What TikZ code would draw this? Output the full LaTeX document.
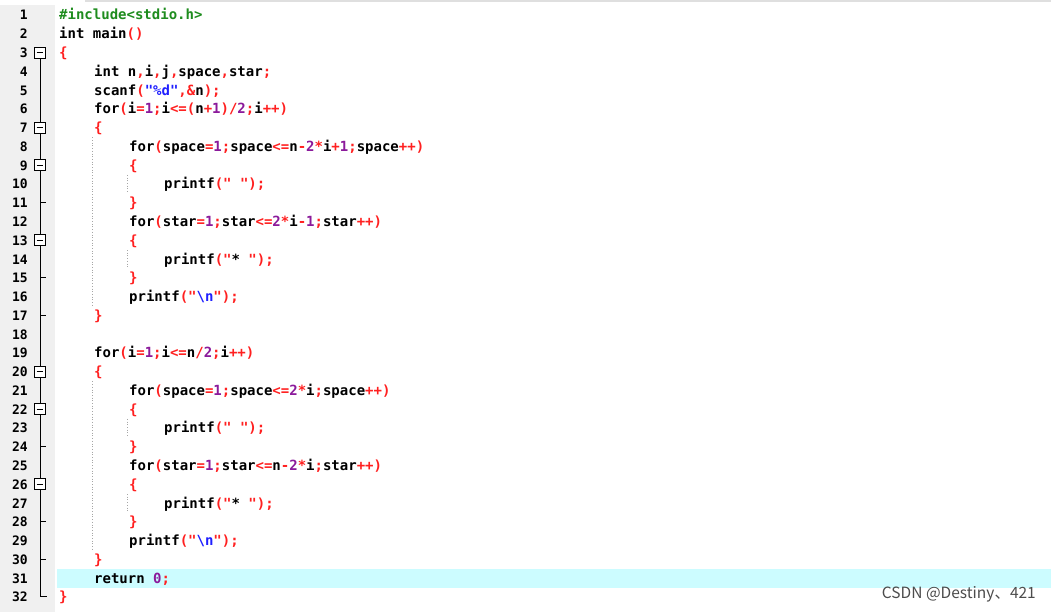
\documentclass[tikz,border=0pt]{standalone}
\usepackage{fontspec}
\setmonofont{DejaVu Sans Mono}
\newfontfamily\cjk{Noto Sans CJK SC}
\definecolor{cred}{HTML}{FF2020}
\definecolor{cnum}{HTML}{8B1A9B}
\definecolor{cstr}{HTML}{2020FF}
\definecolor{cinc}{HTML}{1E8C1E}
\definecolor{cgut}{HTML}{F0F0F0}
\definecolor{chl}{HTML}{CCFCFF}
\newcommand\R[1]{\textcolor{cred}{#1}}
\newcommand\N[1]{\textcolor{cnum}{#1}}
\newcommand\B[1]{\textcolor{cstr}{#1}}
\newcommand\ly[1]{\fpeval{15+(#1-1)*18.77}}
\begin{document}
\begin{tikzpicture}[x=1pt,y=-1pt,
    code/.style={anchor=base west,inner sep=0pt,font=\ttfamily\bfseries\fontsize{14}{16}\selectfont},
    num/.style={anchor=base east,inner sep=0pt,font=\ttfamily\bfseries\fontsize{13}{15}\selectfont},
    foldbox/.style={draw=black,fill=white,minimum size=11pt,inner sep=0pt,line width=0.9pt},
    guide/.style={gray!70,dotted,line width=0.7pt}]
    \useasboundingbox (0,0) rectangle (1051,612);
    \fill[white] (0,0) rectangle (1051,612);
    \fill[gray!25] (85,0) rectangle (1051,2);
    % gutter
    \fill[cgut] (0,5) rectangle (55,612);
    % highlighted line
    \fill[chl] (57,{\ly{31}-9.5}) rectangle (1051,{\ly{31}+9.5});

    % line numbers
    \foreach \i in {1,...,32} {
        \node[num] (n\i) at (28,{\ly{\i}+5}) {\i};
    }

    % fold markers
    \draw[line width=0.9pt] (40,{\ly{3}}) -- (40,{\ly{32}}) -- (47,{\ly{32}});
    \foreach \i in {11,15,17,24,28,30} {
        \draw[line width=0.9pt] (40,{\ly{\i}}) -- (46,{\ly{\i}});
    }
    \foreach \i in {3,7,9,13,20,22,26} {
        \node[foldbox] (f\i) at (40,{\ly{\i}}) {};
        \draw[line width=0.9pt] ([xshift=2.5pt]f\i.west) -- ([xshift=-2.5pt]f\i.east);
    }

    % indent guides
    \draw[guide] (92,{\ly{8}-9}) -- (92,{\ly{16}+9});
    \draw[guide] (92,{\ly{21}-9}) -- (92,{\ly{29}+9});
    \foreach \i in {10,14,23,27} {
        \draw[guide] (127,{\ly{\i}-9}) -- (127,{\ly{\i}+9});
    }

    % code
    \node[code] (L1) at (59,{\ly{1}+5}) {\textcolor{cinc}{\#include<stdio.h>}};
    \node[code] (L2) at (59,{\ly{2}+5}) {int main\R{()}};
    \node[code] (L3) at (59,{\ly{3}+5}) {\R{\{}};
    \node[code] (L4) at (94,{\ly{4}+5}) {int n\R{,}i\R{,}j\R{,}space\R{,}star\R{;}};
    \node[code] (L5) at (94,{\ly{5}+5}) {scanf\R{(}\B{"\%d"}\R{,\&}n\R{);}};
    \node[code] (L6) at (94,{\ly{6}+5}) {for\R{(}i\R{=}\N{1}\R{;}i\R{<=(}n\R{+}\N{1}\R{)/}\N{2}\R{;}i\R{++)}};
    \node[code] (L7) at (94,{\ly{7}+5}) {\R{\{}};
    \node[code] (L8) at (129,{\ly{8}+5}) {for\R{(}space\R{=}\N{1}\R{;}space\R{<=}n\R{-}\N{2}\R{*}i\R{+}\N{1}\R{;}space\R{++)}};
    \node[code] (L9) at (129,{\ly{9}+5}) {\R{\{}};
    \node[code] (L10) at (164,{\ly{10}+5}) {printf\R{("\ ");}};
    \node[code] (L11) at (129,{\ly{11}+5}) {\R{\}}};
    \node[code] (L12) at (129,{\ly{12}+5}) {for\R{(}star\R{=}\N{1}\R{;}star\R{<=}\N{2}\R{*}i\R{-}\N{1}\R{;}star\R{++)}};
    \node[code] (L13) at (129,{\ly{13}+5}) {\R{\{}};
    \node[code] (L14) at (164,{\ly{14}+5}) {printf\R{("}*\ \R{"}\R{);}};
    \node[code] (L15) at (129,{\ly{15}+5}) {\R{\}}};
    \node[code] (L16) at (129,{\ly{16}+5}) {printf\R{("}\B{\textbackslash n}\R{"}\R{);}};
    \node[code] (L17) at (94,{\ly{17}+5}) {\R{\}}};
    \node[code] (L19) at (94,{\ly{19}+5}) {for\R{(}i\R{=}\N{1}\R{;}i\R{<=}n\R{/}\N{2}\R{;}i\R{++)}};
    \node[code] (L20) at (94,{\ly{20}+5}) {\R{\{}};
    \node[code] (L21) at (129,{\ly{21}+5}) {for\R{(}space\R{=}\N{1}\R{;}space\R{<=}\N{2}\R{*}i\R{;}space\R{++)}};
    \node[code] (L22) at (129,{\ly{22}+5}) {\R{\{}};
    \node[code] (L23) at (164,{\ly{23}+5}) {printf\R{("\ ");}};
    \node[code] (L24) at (129,{\ly{24}+5}) {\R{\}}};
    \node[code] (L25) at (129,{\ly{25}+5}) {for\R{(}star\R{=}\N{1}\R{;}star\R{<=}n\R{-}\N{2}\R{*}i\R{;}star\R{++)}};
    \node[code] (L26) at (129,{\ly{26}+5}) {\R{\{}};
    \node[code] (L27) at (164,{\ly{27}+5}) {printf\R{("}*\ \R{"}\R{);}};
    \node[code] (L28) at (129,{\ly{28}+5}) {\R{\}}};
    \node[code] (L29) at (129,{\ly{29}+5}) {printf\R{("}\B{\textbackslash n}\R{"}\R{);}};
    \node[code] (L30) at (94,{\ly{30}+5}) {\R{\}}};
    \node[code] (L31) at (94,{\ly{31}+5}) {return \N{0}\R{;}};
    \node[code] (L32) at (59,{\ly{32}+5}) {\R{\}}};

    % watermark
    \node[anchor=base east,inner sep=0pt,text=gray!60!black,font=\cjk\fontsize{15.5}{17}\selectfont] (wm) at (1036,598) {CSDN @Destiny、421};
\end{tikzpicture}
\end{document}
